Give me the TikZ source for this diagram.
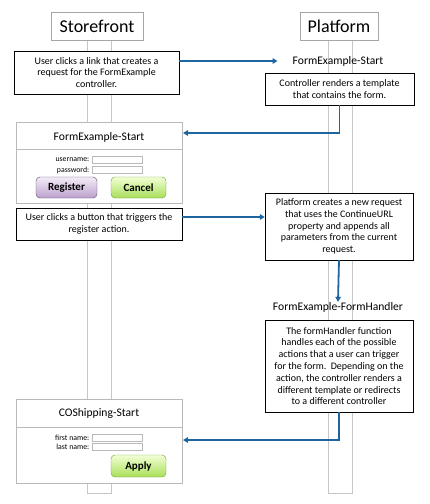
\documentclass[tikz,border=0pt]{standalone}
\usepackage{fontspec}
\setmainfont{Carlito}
\usetikzlibrary{arrows.meta,shadows}
\definecolor{flowblue}{RGB}{30,100,158}
\definecolor{regtop}{RGB}{244,236,248}
\definecolor{regbot}{RGB}{188,160,204}
\definecolor{regline}{RGB}{92,70,112}
\definecolor{oktop}{RGB}{242,255,214}
\definecolor{okbot}{RGB}{168,222,88}
\definecolor{okline}{RGB}{112,160,52}
\begin{document}
\begin{tikzpicture}[x=1pt, y=-1pt,
  every node/.style = {align=center, inner sep=0pt},
  actor/.style = {draw=gray!70, fill=white, minimum width=92pt,
    minimum height=28pt, font=\fontsize{18}{20}\selectfont},
  lifeline/.style = {draw=gray!45, fill=white, minimum width=24pt,
    minimum height=453pt, anchor=north},
  note/.style = {draw=black, fill=white,
    drop shadow={opacity=0.25, shadow xshift=1pt, shadow yshift=-1pt},
    font=\fontsize{10}{11.8}\selectfont},
  screen/.style = {draw=gray!55, fill=white, minimum width=166pt},
  title/.style = {font=\fontsize{11.6}{13}\selectfont},
  field/.style = {draw=gray!55, fill=white, minimum width=50pt, minimum height=7pt},
  fieldlabel/.style = {anchor=east, font=\fontsize{7.8}{8}\selectfont},
  button/.style = {rounded corners=4pt, minimum height=21pt,
    font=\bfseries\fontsize{11}{12}\selectfont},
  flow/.style = {draw=flowblue, line width=1.8pt, -{Triangle[length=5pt,width=5.5pt]}}]
  \useasboundingbox (0,0) rectangle (430,504);

  % lifelines
  \node[lifeline] (storeLife) at (99,40) {};
  \node[lifeline] (platLife) at (340,40) {};
  \node[actor] (store) at (97,26) {Storefront};
  \node[actor, minimum width=78pt] (plat) at (339,26) {Platform};

  % storefront side
  \node[note, minimum width=165pt, minimum height=43pt] (clickLink) at (96.5,72.5)
    {User clicks a link that creates a\\ request for the FormExample\\ controller.};

  \node[screen, minimum height=81pt] (formStart) at (99,162.5) {};
  \draw[gray!55] (formStart.west |- 0,149) -- (formStart.east |- 0,149);
  \node[title] (formStartTitle) at (99,137) {FormExample-Start};
  \node[fieldlabel] (userLbl) at (89.5,160) {username:};
  \node[field] (userBox) at (117,159.5) {};
  \node[fieldlabel] (passLbl) at (89.5,170) {password:};
  \node[field] (passBox) at (117,169.5) {};
  \node[button, minimum width=61pt, draw=regline, top color=regtop, bottom color=regbot]
    (register) at (66.5,187.5) {Register};
  \node[button, minimum width=55pt, draw=okline, top color=oktop, bottom color=okbot]
    (cancel) at (138.5,187.5) {Cancel};

  \node[note, minimum width=166pt, minimum height=32pt] (clickButton) at (99,224)
    {User clicks a button that triggers the\\ register action.};

  \node[screen, minimum height=84pt] (shipStart) at (99,441) {};
  \draw[gray!55] (shipStart.west |- 0,427) -- (shipStart.east |- 0,427);
  \node[title] (shipTitle) at (99,413) {COShipping-Start};
  \node[fieldlabel] (firstLbl) at (89.5,438) {first name:};
  \node[field] (firstBox) at (117,437.5) {};
  \node[fieldlabel] (lastLbl) at (89.5,447) {last name:};
  \node[field] (lastBox) at (117,447) {};
  \node[button, minimum width=55pt, minimum height=22pt, draw=okline, top color=oktop, bottom color=okbot]
    (apply) at (138.5,466) {Apply};

  % platform side
  \node[title] (startLbl) at (338,61) {FormExample-Start};
  \node[note, minimum width=149pt, minimum height=32pt] (render) at (339.5,89)
    {Controller renders a template\\ that contains the form.};
  \node[note, minimum width=148pt, minimum height=67pt] (newRequest) at (339,226.5)
    {Platform creates a new request\\ that uses the ContinueURL\\ property and appends all\\
     parameters from the current\\ request.};
  \node[title] (handlerLbl) at (338,307) {FormExample-FormHandler};
  \node[note, minimum width=148pt, minimum height=92pt] (handler) at (339,366)
    {The formHandler function\\ handles each of the possible\\ actions that a user can trigger\\
     for the form.\ \ Depending on the\\ action, the controller renders a\\
     different template or redirects\\ to a different controller};

  % messages
  \coordinate (toForm) at (183,133);
  \coordinate (toShip) at (183,440);
  \draw[flow] (clickLink.east |- startLbl) -- ([xshift=-15pt]startLbl.west);
  \draw[flow] (render.south) |- (toForm);
  \draw[flow] ([yshift=7pt]clickButton.east) -- ([yshift=7pt]clickButton.east -| newRequest.west);
  \draw[flow] (newRequest.south) -- (handlerLbl.north);
  \draw[flow] (handler.south) |- (toShip);
\end{tikzpicture}
\end{document}
